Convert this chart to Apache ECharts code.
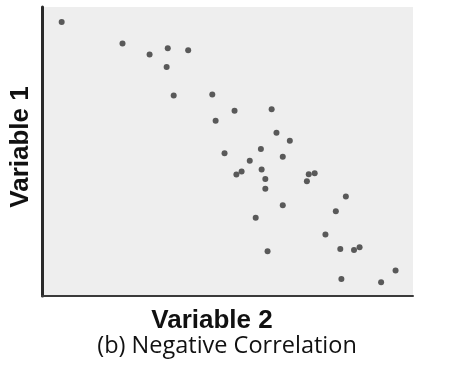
<!DOCTYPE html>
<html>
<head>
<meta charset="utf-8">
<script src="https://cdn.jsdelivr.net/npm/echarts@6/dist/echarts.min.js"></script>
<style>html,body{margin:0;padding:0;background:#fff}#c{width:450px;height:368px}</style>
</head>
<body>
<div id="c"></div>
<script>
const xValues = [5.3,21.7,29.0,33.9,39.4,33.6,35.5,45.9,46.8,49.2,51.9,61.9,63.2,66.8,59.0,64.9,56.0,53.8,52.4,59.2,60.2,60.2,71.9,73.5,71.4,81.9,64.9,79.2,57.6,76.4,80.4,84.1,85.6,60.8,95.3,80.7,91.4];
const yValues = [94.8,87.4,83.6,85.7,85.0,79.2,69.4,69.7,60.6,49.4,64.1,64.6,56.5,53.7,50.9,48.2,46.8,43.1,42.0,43.8,40.5,37.1,42.1,42.5,39.7,34.4,31.4,29.3,27.1,21.3,16.3,15.9,16.9,15.5,8.8,5.9,4.8];
const xLabel = "Variable 2";
const yLabel = "Variable 1";
const caption = "(b) Negative Correlation";

const chart = echarts.init(document.getElementById('c'), null, {renderer:'canvas'});
chart.setOption({
  animation:false,
  grid:{left:42,top:7,right:37,bottom:72,show:true,backgroundColor:'#eeeeee',borderWidth:0},
  xAxis:{type:'value',min:0,max:100,axisLine:{show:true,lineStyle:{color:'#3a3a3a',width:2}},axisTick:{show:false},axisLabel:{show:false},splitLine:{show:false}},
  yAxis:{type:'value',min:0,max:100,axisLine:{show:true,lineStyle:{color:'#2a2a2a',width:3}},axisTick:{show:false},axisLabel:{show:false},splitLine:{show:false}},
  series:[{type:'scatter',symbolSize:6,itemStyle:{color:'#333333'},data:xValues.map((x,i)=>[x,yValues[i]])}],
  graphic:[
    {type:'text',x:212,y:321,style:{text:xLabel,font:'bold 26px "Liberation Sans", Arial, sans-serif',fill:'#111',align:'center',verticalAlign:'middle'}},
    {type:'text',x:227,y:346,style:{text:caption,font:'23.5px "Open Sans", sans-serif',fill:'#111',align:'center',verticalAlign:'middle'}},
    {type:'text',x:21,y:147,rotation:Math.PI/2,style:{text:yLabel,font:'bold 26px "Liberation Sans", Arial, sans-serif',fill:'#111',align:'center',verticalAlign:'middle'}}
  ]
});
</script>
</body>
</html>
